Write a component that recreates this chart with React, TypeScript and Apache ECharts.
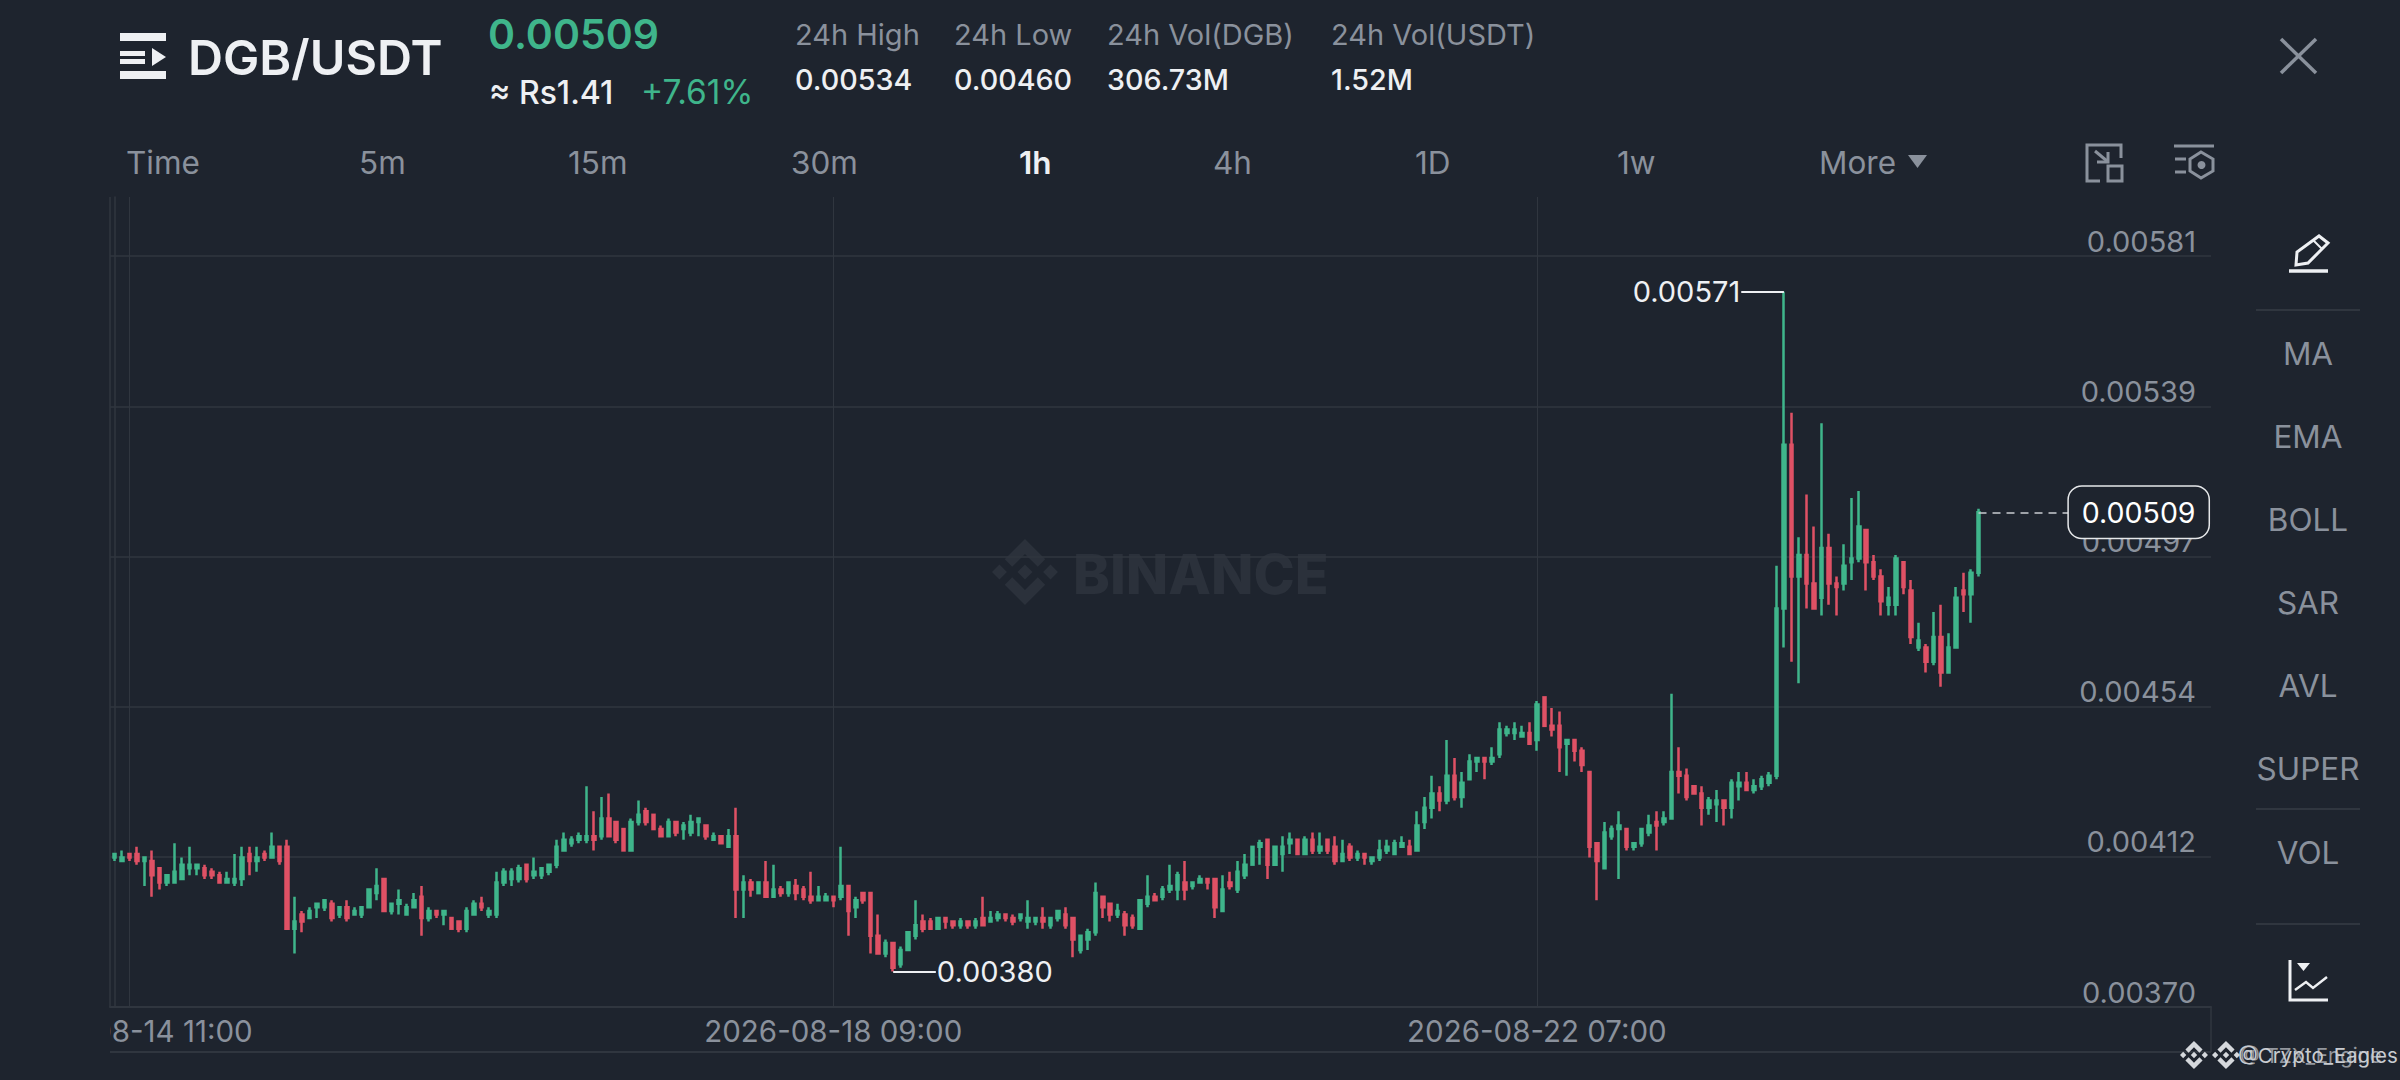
import React, { useEffect, useRef } from "react";
import * as echarts from "echarts";

// Prices in units of 0.00001 USDT, hourly candles from 2026-08-14 09:00
const opens = [
412,411,413,413,411,411,409,405,405,406,409,409,409,408,407,405,405,406,413,411,
413,412,415,415,392,396,395,398,398,399,396,398,396,396,398,402,406,397,399,396,
398,401,395,397,396,395,394,392,396,399,396,396,405,406,406,410,407,407,408,410,
414,416,417,417,418,418,423,422,420,414,422,425,424,420,418,422,420,419,422,421,
417,418,415,418,403,405,402,405,401,403,402,404,403,401,400,400,401,401,404,398,
402,402,390,385,388,382,386,390,394,394,392,395,394,393,394,393,395,394,395,396,
395,395,394,394,395,393,395,396,395,386,389,391,401,399,396,396,395,392,399,401,
401,403,403,405,404,405,406,406,397,405,403,407,410,415,417,410,413,416,417,413,
417,414,417,415,411,415,412,413,411,412,414,413,415,415,414,422,426,430,428,435,
429,434,439,440,439,441,447,447,446,447,445,457,449,449,444,445,442,436,416,409,
418,420,420,415,416,419,422,422,423,436,435,432,430,426,427,428,426,432,433,431,
432,433,435,482,528,491,497,489,485,499,489,489,495,496,504,495,491,483,483,495,
487,471,471,467,474,464,471,487,486,492];
const closes = [
413,412,412,411,412,407,405,407,408,410,410,410,407,407,405,406,406,412,411,412,
412,415,411,392,394,394,397,399,400,395,398,395,397,398,403,404,397,399,400,398,
400,395,397,396,397,392,392,397,399,398,397,405,408,408,409,406,408,409,410,415,
417,417,418,418,417,423,418,417,414,422,424,422,420,418,422,419,421,422,423,418,
418,416,418,403,405,403,405,401,403,402,405,402,401,400,401,401,400,404,397,400,
400,390,385,388,381,386,391,393,392,392,395,394,393,394,393,394,393,395,396,395,
394,396,395,395,394,395,397,393,389,390,391,402,398,396,397,393,393,400,401,400,
403,404,407,403,405,406,405,398,403,404,408,410,415,416,410,415,415,417,413,417,
414,415,414,411,413,412,413,412,412,414,415,416,416,413,421,426,430,428,435,429,
433,439,440,439,440,448,448,448,447,444,455,449,448,443,445,442,438,415,411,419,
420,421,415,416,420,421,421,423,436,435,429,430,426,428,428,426,433,433,431,432,
434,435,482,528,491,497,489,482,499,489,488,494,496,505,495,491,484,485,496,488,
474,473,467,474,464,471,485,486,492,509];
const lows = [
411,411,411,410,404,401,403,404,405,406,407,407,406,406,405,405,404,404,407,408,
411,412,410,392,385,391,395,395,397,394,395,394,396,395,398,400,397,396,396,396,
398,390,394,395,393,392,391,391,396,397,395,395,404,404,405,405,406,406,407,409,
414,415,416,416,414,417,418,416,414,414,421,421,420,418,418,418,417,418,418,417,
417,416,415,395,395,401,402,401,401,401,401,400,400,399,400,400,398,400,390,395,
399,385,385,384,380,381,386,389,391,392,392,392,392,392,392,392,393,394,394,394,
393,394,392,393,392,392,394,392,384,385,386,390,395,394,395,390,392,392,398,400,
400,402,400,400,403,405,403,395,397,403,402,406,410,410,406,410,408,413,413,413,
413,413,413,410,411,411,411,410,410,411,413,413,415,413,414,420,423,425,427,428,
426,434,436,434,438,440,446,445,446,444,442,449,446,436,435,439,436,412,400,409,
417,406,414,414,415,418,414,421,423,430,428,430,421,424,422,421,423,428,431,430,
431,432,434,471,467,461,482,482,480,483,480,487,490,495,487,490,480,480,480,486,
472,470,464,466,460,464,471,481,478,491];
const highs = [
413,414,413,415,412,414,409,407,416,412,415,410,410,409,408,408,413,415,415,415,
414,419,415,417,401,397,398,399,400,400,398,400,398,398,403,409,406,399,403,399,
402,404,398,397,397,395,394,398,400,401,398,408,409,409,410,410,412,409,410,417,
419,418,419,432,425,429,430,422,420,423,428,426,424,421,423,422,422,424,423,421,
419,418,420,426,407,406,405,411,410,404,405,406,404,408,404,402,401,415,404,401,
402,402,396,389,388,387,391,400,396,395,395,395,394,395,394,395,401,397,397,396,
396,396,400,395,398,395,397,398,395,390,392,405,401,399,399,397,396,400,407,402,
404,410,408,411,405,407,406,406,407,408,411,413,415,417,417,415,418,419,417,418,
419,419,417,418,417,416,414,413,412,417,417,417,418,417,425,429,435,432,445,440,
436,441,440,440,443,450,449,450,449,450,456,457,454,453,445,445,443,436,416,422,
421,425,420,416,420,424,425,425,458,443,437,432,432,429,431,428,434,436,436,434,
435,436,494,571,537,502,514,505,534,503,491,500,513,515,504,497,493,488,497,495,
490,478,472,481,483,475,488,492,493,510];

const priceTicks = [0.0037, 0.004122, 0.004544, 0.004966, 0.005388, 0.00581];
const timeTickPositions = [2, 96, 190];
const timeTickLabels = ["2026-08-14 11:00", "2026-08-18 09:00", "2026-08-22 07:00"];
const tabs = ["Time", "5m", "15m", "30m", "1h", "4h", "1D", "1w", "More"];
const indicators = ["MA", "EMA", "BOLL", "SAR", "AVL", "SUPER", "VOL"];
const stats = [
  ["24h High", "0.00534"],
  ["24h Low", "0.00460"],
  ["24h Vol(DGB)", "306.73M"],
  ["24h Vol(USDT)", "1.52M"],
];

const BG = "#1e242e";
const GREEN = "#3fb58b";
const RED = "#df5165";
const GREY = "#8a919c";
const LINE = "#30363f";
const WHITE = "#eef0f3";
const FONT = "Inter, 'Noto Sans', sans-serif";

const BNB =
  "M38.73 53.2L63.3 28.64l24.58 24.58 14.3-14.3L63.3 0 24.43 38.87l14.3 14.3zM0 63.31l14.3-14.3 14.3 14.3-14.3 14.3zM38.73 73.41L63.3 97.98l24.58-24.57 14.3 14.29-.01.01L63.3 126.6 24.43 87.73l-.02-.02 14.32-14.3zM98 63.31l14.3-14.3 14.3 14.3-14.3 14.3zM77.83 63.3L63.3 48.78 52.57 59.51l-1.24 1.24-2.54 2.54 14.51 14.52 14.53-14.51z";
echarts.graphic.registerShape("bnb", echarts.graphic.extendPath(BNB, {}) as any);

const txt = (text: string, x: number, y: number, size: number, fill: string, weight: number | string = 400, align = "left", z = 10) => ({
  type: "text",
  z,
  style: { text, x, y, fill, fontSize: size, fontWeight: weight, fontFamily: FONT, align, textAlign: align, verticalAlign: "middle", textVerticalAlign: "middle" },
});
const seg = (x1: number, y1: number, x2: number, y2: number, stroke: string, lineWidth = 2, z = 10) => ({
  type: "line", z, shape: { x1, y1, x2, y2 }, style: { stroke, lineWidth },
});
const box = (x: number, y: number, width: number, height: number, fill: string, z = 10) => ({
  type: "rect", z, shape: { x, y, width, height }, style: { fill },
});
const poly = (points: number[][], style: any, type = "polygon", z = 10) => ({ type, z, shape: { points }, style });

const tabX = [126, 359, 568, 791, 1019, 1213, 1415, 1617, 1819];
const indicatorY = [353, 436, 519, 602, 685, 768, 852];
const statX = [795, 954, 1107, 1331];

function buildGraphics() {
  const g: any[] = [];
  // logo
  g.push(box(120, 33, 46, 8, WHITE), box(120, 71, 46, 8, WHITE), box(120, 51, 25, 5, WHITE), box(120, 59, 25, 5, WHITE));
  g.push(poly([[152, 48], [166, 57], [152, 66]], { fill: WHITE }));
  g.push(txt("DGB/USDT", 188, 57, 48.5, WHITE, 600));
  g.push(txt("0.00509", 488, 34, 41, GREEN, 600));
  g.push(txt("≈ Rs1.41", 489, 92, 32, WHITE, 500));
  g.push(txt("+7.61%", 641, 92, 33.5, GREEN, 400));
  stats.forEach(([a, b], i) => {
    g.push(txt(a, statX[i], 34, 29, GREY, 400));
    g.push(txt(b, statX[i], 79, 28.7, WHITE, 500));
  });
  tabs.forEach((t, i) => g.push(txt(t, tabX[i], 162, 31.5, t === "1h" ? WHITE : GREY, t === "1h" ? 600 : 400)));
  g.push(poly([[1908, 155], [1927, 155], [1917.5, 168]], { fill: GREY }));
  // tab icons
  g.push(poly([[2100, 181], [2087, 181], [2087, 145], [2121, 145], [2121, 158]], { stroke: GREY, lineWidth: 3, fill: "none" }, "polyline"));
  g.push({ type: "rect", z: 10, shape: { x: 2108, y: 166, width: 14, height: 15 }, style: { stroke: GREY, lineWidth: 3, fill: "none" } });
  g.push(poly([[2095, 151], [2107, 161]], { stroke: GREY, lineWidth: 3, fill: "none" }, "polyline"), poly([[2097, 162], [2108, 162], [2108, 152]], { stroke: GREY, lineWidth: 3, fill: "none" }, "polyline"));
  g.push(seg(2174, 146, 2214, 146, GREY, 3), seg(2175, 159, 2186, 159, GREY, 3), seg(2175, 172, 2186, 172, GREY, 3));
  g.push(poly([[2201, 152], [2213, 159], [2213, 171], [2201, 178], [2190, 171], [2190, 159]], { stroke: GREY, lineWidth: 3, fill: "none" }));
  g.push({ type: "circle", z: 10, shape: { cx: 2201.5, cy: 165, r: 4 }, style: { fill: GREY } });
  // close
  g.push(seg(2281, 39, 2316, 73, GREY, 3.5), seg(2316, 39, 2281, 73, GREY, 3.5));
  // sidebar
  g.push(poly([[2296, 265], [2297, 252], [2319, 236], [2328, 243], [2308, 263]], { stroke: WHITE, lineWidth: 3, fill: "none" }));
  g.push(seg(2289, 271, 2328, 271, WHITE, 3.5), seg(2313, 240, 2322, 249, WHITE, 2));
  [310, 809, 924].forEach((y) => g.push(seg(2256, y, 2360, y, LINE, 2)));
  indicators.forEach((t, i) => g.push(txt(t, 2308, indicatorY[i], 31.5, GREY, 400, "center")));
  g.push(poly([[2290, 960], [2290, 1000], [2328, 1000]], { stroke: WHITE, lineWidth: 3, fill: "none" }, "polyline"));
  g.push(poly([[2295, 990], [2306, 982], [2313, 988], [2327, 977]], { stroke: WHITE, lineWidth: 2.5, fill: "none" }, "polyline"));
  g.push(poly([[2297, 963], [2310, 963], [2303.5, 971]], { fill: WHITE }));
  // frame pieces that the grid does not draw
  g.push(seg(110, 197, 110, 1007, LINE, 1.5, 1));
  g.push(seg(110, 1052, 2211, 1052, LINE, 2, 1), seg(2211, 1007, 2211, 1052, LINE, 1.5, 1));
  // mask clipping the first time label at the chart's left edge
  g.push(box(0, 1012, 110, 38, BG, 100));
  // watermarks
  g.push({ type: "bnb", z: 0, x: 992, y: 539, scaleX: 66 / 126.6, scaleY: 66 / 126.6, style: { fill: "#2b313b" } });
  g.push(txt("BINANCE", 1073, 573, 55.5, "#2b313b", 800, "left", 0));
  g.push({ type: "bnb", z: 20, x: 2180, y: 1041, scaleX: 28 / 126.6, scaleY: 28 / 126.6, style: { fill: "#d5d8dc" } });
  g.push({ type: "bnb", z: 20, x: 2212, y: 1041, scaleX: 28 / 126.6, scaleY: 28 / 126.6, style: { fill: "#d5d8dc" } });
  g.push(txt("@Crypto_Eagles", 2238, 1055, 20.5, "#c9ccd1", 400, "left", 20));
  g.push(txt("@ TZX_Engine", 2240, 1055, 20.5, "rgba(201,204,209,0.7)", 400, "left", 20));
  return g;
}

export default function App() {
  const ref = useRef<HTMLDivElement>(null);
  useEffect(() => {
    document.body.style.margin = "0";
    document.body.style.background = BG;
    const chart = echarts.init(ref.current!, undefined, { renderer: "svg" });
    const scale = 1e5;
    const data = opens.map((o, i) => [i, o / scale, closes[i] / scale, lows[i] / scale, highs[i] / scale]);
    const hiIdx = highs.indexOf(Math.max(...highs));
    const loIdx = lows.indexOf(Math.min(...lows));
    const last = data.length - 1;
    const lastClose = closes[last] / scale;
    const extLine = { color: WHITE, width: 2, type: "solid", opacity: 1 };
    const extLabel = { show: true, position: "end", color: WHITE, fontSize: 29, fontFamily: FONT, distance: 1 };
    chart.setOption({
      animation: false,
      backgroundColor: BG,
      textStyle: { fontFamily: FONT },
      grid: { left: 110, right: 189, top: 197, bottom: 73 },
      graphic: buildGraphics(),
      xAxis: {
        type: "value",
        min: -0.633,
        max: 280.06,
        axisLine: { show: true, lineStyle: { color: LINE, width: 2 } },
        axisTick: { show: false, customValues: timeTickPositions },
        splitLine: { show: true, lineStyle: { color: LINE, width: 1 } },
        axisLabel: {
          customValues: timeTickPositions,
          formatter: (v: number) => timeTickLabels[timeTickPositions.indexOf(v)] ?? "",
          color: GREY,
          fontSize: 29.5,
          fontFamily: FONT,
          margin: 9,
        },
      },
      yAxis: {
        type: "value",
        position: "right",
        min: 0.0037,
        max: 0.005976,
        axisLine: { show: true, lineStyle: { color: LINE, width: 1.5 } },
        axisTick: { show: false, customValues: priceTicks },
        splitLine: { show: true, lineStyle: { color: LINE, width: 1.5 } },
        axisLabel: {
          inside: true,
          customValues: priceTicks,
          formatter: (v: number) => v.toFixed(5),
          color: GREY,
          fontSize: 29,
          fontFamily: FONT,
          margin: 15,
          verticalAlign: "bottom",
          lineHeight: 30,
        },
      },
      series: [
        {
          type: "candlestick",
          barWidth: 3,
          encode: { x: 0, y: [1, 2, 3, 4] },
          itemStyle: { color: GREEN, color0: RED, borderColor: GREEN, borderColor0: RED, borderWidth: 2.5 },
          data,
          markLine: {
            silent: true,
            symbol: "none",
            animation: false,
            data: [
              [
                { coord: [hiIdx, highs[hiIdx] / scale], lineStyle: extLine, label: { ...extLabel, formatter: (highs[hiIdx] / scale).toFixed(5) } },
                { coord: [hiIdx - 5.7, highs[hiIdx] / scale] },
              ],
              [
                { coord: [loIdx, lows[loIdx] / scale], lineStyle: extLine, label: { ...extLabel, formatter: (lows[loIdx] / scale).toFixed(5) } },
                { coord: [loIdx + 5.7, lows[loIdx] / scale] },
              ],
              [
                { coord: [last, lastClose], lineStyle: { color: "#c9ccd1", width: 1.5, type: [8, 6], opacity: 1 }, label: { show: false } },
                { coord: [261, lastClose] },
              ],
            ],
          },
          markPoint: {
            silent: true,
            animation: false,
            symbol: "rect",
            symbolSize: 1,
            itemStyle: { color: "transparent" },
            data: [
              {
                coord: [270.4, lastClose],
                label: {
                  show: true,
                  position: "inside",
                  formatter: lastClose.toFixed(5),
                  color: "#ffffff",
                  fontSize: 28.5,
                  fontFamily: FONT,
                  backgroundColor: BG,
                  borderColor: "#e6e8ea",
                  borderWidth: 1.5,
                  borderRadius: 13,
                  padding: [11, 13, 11, 13],
                  lineHeight: 29,
                },
              },
            ],
          },
        },
      ],
    });
    return () => chart.dispose();
  }, []);
  return <div ref={ref} style={{ position: "fixed", left: 0, top: 0, width: 2400, height: 1080 }} />;
}
